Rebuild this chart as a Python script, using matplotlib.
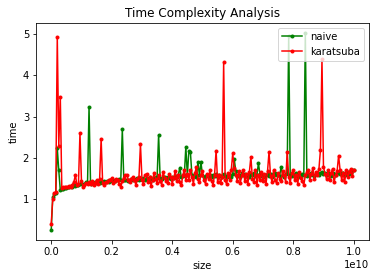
import matplotlib
matplotlib.use('Agg')
import matplotlib.pyplot as plt
import numpy as np

# problem sizes: 0 .. 1e10 in steps of 5e7
size = np.arange(201) * 5e7

naive = [
    0.26, 1.05, 1.12, 1.15, 2.24, 1.70, 1.22, 1.24, 1.26, 1.27,
    1.28, 1.30, 1.29, 1.32, 1.31, 1.35, 1.33, 1.36, 1.34, 1.37,
    1.40, 1.36, 1.38, 1.42, 1.39, 3.23, 1.38, 1.40, 1.37, 1.41,
    1.39, 1.42, 1.40, 1.43, 1.41, 1.44, 1.42, 1.45, 1.43, 1.46,
    1.44, 1.47, 1.45, 1.48, 1.46, 1.50, 1.47, 2.69, 1.46, 1.48,
    1.47, 1.45, 1.48, 1.50, 1.46, 1.49, 1.47, 1.51, 1.48, 1.50,
    1.49, 1.52, 1.47, 1.51, 1.49, 1.53, 1.50, 1.48, 1.52, 1.54,
    1.51, 2.56, 1.52, 1.49, 1.53, 1.55, 1.51, 1.54, 1.52, 1.50,
    1.54, 1.52, 1.56, 1.53, 1.58, 1.77, 1.54, 1.56, 1.59, 2.27,
    1.58, 2.18, 2.15, 1.60, 1.56, 1.58, 1.54, 1.91, 1.58, 1.90,
    1.58, 1.55, 1.57, 1.60, 1.53, 1.58, 1.55, 1.60, 1.57, 1.62,
    1.55, 1.59, 1.57, 1.53, 1.61, 1.57, 1.55, 1.60, 1.58, 1.55,
    1.61, 1.98, 1.68, 1.57, 1.60, 1.55, 1.63, 1.58, 1.61, 1.57,
    1.59, 1.55, 1.61, 1.58, 1.63, 1.57, 1.60, 1.87, 1.61, 1.57,
    1.60, 1.55, 1.59, 1.62, 1.57, 1.61, 1.55, 1.59, 1.63, 1.58,
    1.60, 1.57, 1.79, 1.59, 1.55, 1.61, 1.65, 4.95, 1.59, 1.57,
    1.61, 1.58, 1.63, 1.55, 1.60, 1.57, 1.62, 1.59, 5.03, 1.57,
    1.61, 1.58, 1.63, 1.59, 1.57, 1.61, 1.65, 1.60, 1.63, 1.67,
    1.61, 1.65, 1.59, 1.63, 1.61, 1.57, 1.65, 1.62, 1.60, 1.64,
    1.67, 1.61, 1.63, 1.65, 1.59, 1.63, 1.67, 1.61, 1.65, 1.72, 1.70,
]

karatsuba = [
    0.40, 1.02, 1.15, 1.18, 4.92, 2.30, 3.48, 1.28, 1.30, 1.29,
    1.31, 1.30, 1.33, 1.29, 1.36, 1.42, 1.60, 1.34, 1.38, 2.60,
    1.45, 1.30, 1.36, 1.40, 1.38, 1.41, 1.37, 1.44, 1.35, 1.40,
    1.46, 1.38, 1.50, 2.47, 1.40, 1.36, 1.41, 1.43, 1.48, 1.46,
    1.52, 1.39, 1.45, 1.50, 1.48, 1.38, 1.30, 1.44, 1.52, 1.58,
    1.60, 1.47, 1.42, 1.49, 1.55, 1.46, 1.35, 1.50, 1.53, 2.33,
    1.48, 1.38, 1.58, 1.62, 1.42, 1.55, 1.33, 1.47, 1.64, 1.50,
    1.40, 1.60, 1.45, 1.36, 1.66, 1.52, 1.44, 1.39, 1.62, 1.55,
    1.38, 1.52, 1.68, 1.45, 1.60, 1.41, 1.34, 1.58, 1.72, 1.46,
    1.62, 1.48, 1.70, 1.55, 1.38, 1.64, 1.78, 1.50, 1.42, 1.60,
    1.68, 1.46, 1.38, 1.62, 1.50, 1.72, 1.44, 1.36, 1.60, 2.18,
    1.42, 1.58, 1.40, 1.55, 4.31, 1.46, 1.37, 1.63, 1.48, 1.70,
    2.11, 1.76, 1.60, 1.45, 1.68, 1.40, 1.58, 1.70, 1.44, 1.62,
    1.38, 1.66, 2.03, 1.50, 1.42, 1.72, 1.36, 1.60, 1.48, 1.66,
    1.44, 1.62, 1.38, 1.68, 2.15, 1.56, 1.42, 1.70, 1.48, 1.40,
    1.64, 1.50, 1.45, 1.68, 1.58, 1.42, 2.14, 1.55, 1.40, 1.64,
    1.70, 1.46, 1.60, 1.38, 1.66, 1.52, 1.44, 1.35, 1.58, 1.66,
    1.72, 1.48, 1.62, 1.76, 1.50, 1.66, 1.58, 1.74, 2.20, 4.39,
    1.78, 1.62, 1.50, 1.70, 1.46, 1.64, 1.74, 1.42, 1.58, 1.68,
    2.06, 1.70, 1.48, 1.64, 1.42, 1.70, 1.55, 1.66, 1.74, 1.56, 1.72,
]

fig = plt.figure(figsize=(376 / 72, 278 / 72), dpi=72)
ax = fig.add_axes([0.096, 0.137, 0.885, 0.781])

ax.plot(size, naive, color='g', marker='.', label='naive')
ax.plot(size, karatsuba, color='r', marker='.', label='karatsuba')

ax.set_title('Time Complexity Analysis')
ax.set_xlabel('size')
ax.set_ylabel('time')
ax.legend(loc='upper right')

fig.savefig('out.png', dpi=72)
